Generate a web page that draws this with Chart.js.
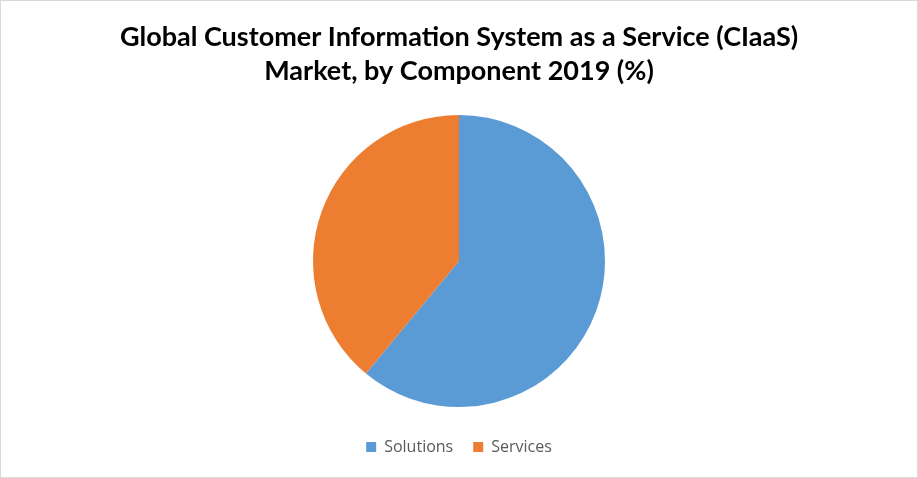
<!DOCTYPE html>
<html lang="en">
	<head>
		<meta charset="UTF-8" />
		<title>CIaaS Market by Component 2019</title>
		<script src="https://cdn.jsdelivr.net/npm/chart.js"></script>
		<style>
			html, body {
				margin: 0;
				padding: 0;
				background: #fff;
			}
			#chart-container {
				width: 916px;
				height: 476px;
				border: 1px solid #d9d9d9;
			}
		</style>
	</head>
	<body>
		<div id="chart-container">
			<canvas id="pieChart"></canvas>
		</div>

		<script>
			const categories = ["Solutions", "Services"];
			const shares = [61, 39];
			const colors = ["#5b9bd5", "#ed7d31"];

			const ctx = document.getElementById("pieChart").getContext("2d");

			new Chart(ctx, {
				type: "pie",
				data: {
					labels: categories,
					datasets: [
						{
							data: shares,
							backgroundColor: colors,
							borderWidth: 0,
							radius: 146,
						},
					],
				},
				options: {
					responsive: true,
					maintainAspectRatio: false,
					animation: false,
					layout: { padding: { top: 0, bottom: 12 } },
					plugins: {
						title: {
							display: true,
							text: ["Global Customer Information System as a Service (CIaaS)", "Market, by Component 2019 (%)"],
							color: "#000",
							font: { family: "Lato", size: 27, weight: "bold", lineHeight: 1.26 },
							padding: { top: 19, bottom: 15 },
						},
						legend: {
							position: "bottom",
							labels: {
								color: "#595959",
								font: { family: "Open Sans", size: 16 },
								boxWidth: 10,
								boxHeight: 10,
								padding: 20,
							},
						},
						tooltip: { enabled: false },
					},
				},
			});
		</script>
	</body>
</html>
